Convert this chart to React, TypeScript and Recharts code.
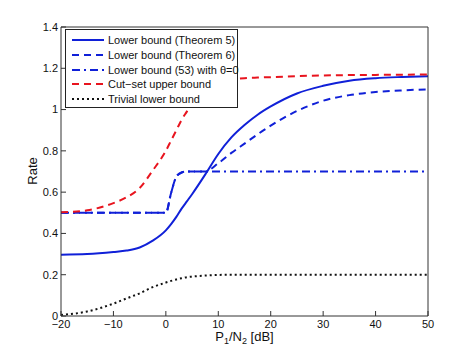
import React from "react";
import { LineChart, Line, XAxis, YAxis } from "recharts";

const xs = [-20, -15, -10, -7.5, -5, -2.5, 0, 1, 2, 3, 4, 5, 7.5, 10, 12.5, 15, 17.5, 20, 25, 30, 35, 40, 45, 50];
const theorem5 = [0.297, 0.3, 0.31, 0.317, 0.332, 0.365, 0.415, 0.445, 0.48, 0.52, 0.555, 0.59, 0.685, 0.785, 0.865, 0.925, 0.975, 1.015, 1.078, 1.115, 1.14, 1.152, 1.158, 1.162];
const theorem6 = [0.5, 0.5, 0.5, 0.5, 0.5, 0.5, 0.5, 0.596, 0.675, 0.695, 0.7, 0.7, 0.7, 0.74, 0.79, 0.835, 0.88, 0.922, 0.993, 1.043, 1.07, 1.085, 1.093, 1.098];
const bound53 = [0.5, 0.5, 0.5, 0.5, 0.5, 0.5, 0.5, 0.596, 0.675, 0.695, 0.7, 0.7, 0.7, 0.7, 0.7, 0.7, 0.7, 0.7, 0.7, 0.7, 0.7, 0.7, 0.7, 0.7];
const cutset = [0.502, 0.512, 0.547, 0.575, 0.62, 0.705, 0.8, 0.85, 0.9, 0.95, 0.99, 1.03, 1.1, 1.13, 1.145, 1.152, 1.155, 1.157, 1.162, 1.165, 1.167, 1.168, 1.169, 1.17];
const trivial = [0.005, 0.022, 0.06, 0.085, 0.11, 0.14, 0.162, 0.17, 0.177, 0.183, 0.188, 0.191, 0.196, 0.199, 0.2, 0.2, 0.2, 0.2, 0.2, 0.2, 0.2, 0.2, 0.2, 0.2];

const xTicks = [-20, -10, 0, 10, 20, 30, 40, 50];
const yTicks = [0, 0.2, 0.4, 0.6, 0.8, 1, 1.2, 1.4];

const legendLabels = [
  "Lower bound (Theorem 5)",
  "Lower bound (Theorem 6)",
  "Lower bound (53) with \u03b8=0",
  "Cut\u2212set upper bound",
  "Trivial lower bound",
];

const BLUE = "#1020d8";
const RED = "#e8141e";
const BLACK = "#111111";
const FONT = "'Liberation Sans', Arial, Helvetica, sans-serif";

const series = [
  { key: "t5", name: legendLabels[0], values: theorem5, color: BLUE, dash: undefined as string | undefined },
  { key: "t6", name: legendLabels[1], values: theorem6, color: BLUE, dash: "7 5" },
  { key: "b53", name: legendLabels[2], values: bound53, color: BLUE, dash: "8 4 2 4" },
  { key: "cs", name: legendLabels[3], values: cutset, color: RED, dash: "7 5" },
  { key: "tr", name: legendLabels[4], values: trivial, color: BLACK, dash: "2 3" },
];

const data = xs.map((x, i) => {
  const row: Record<string, number> = { x };
  series.forEach((s) => {
    row[s.key] = s.values[i];
  });
  return row;
});

const fmt = (v: number) => String(v).replace("-", "\u2212");

function XLabel(props: any) {
  const vb = props.viewBox || {};
  const cx = vb.x + vb.width / 2;
  return (
    <text x={cx} y={vb.y + 25} textAnchor="middle" fontSize={13} fontFamily={FONT} fill="#111">
      P<tspan dy={3} fontSize={9}>1</tspan>
      <tspan dy={-3}>/N</tspan>
      <tspan dy={3} fontSize={9}>2</tspan>
      <tspan dy={-3}> [dB]</tspan>
    </text>
  );
}

function YLabel() {
  return (
    <text
      x={24}
      y={163}
      textAnchor="middle"
      dominantBaseline="central"
      fontSize={13}
      fontFamily={FONT}
      fill="#111"
      transform="rotate(-90 24 163)"
    >
      Rate
    </text>
  );
}

function LegendBox() {
  return (
    <div
      style={{
        position: "absolute",
        left: 57,
        top: 21,
        width: 173,
        height: 79,
        boxSizing: "border-box",
        border: "1px solid #222",
        background: "#fff",
        paddingTop: 3,
        fontFamily: FONT,
        fontSize: 11,
        color: "#111",
      }}
    >
      {series.map((s) => (
        <div key={s.key} style={{ height: 14.7, display: "flex", alignItems: "center" }}>
          <svg width={42} height={10} style={{ flex: "none" }}>
            <line x1={6} y1={5} x2={38} y2={5} stroke={s.color} strokeWidth={2} strokeDasharray={s.dash} />
          </svg>
          <span style={{ whiteSpace: "nowrap", lineHeight: "14px" }}>{s.name}</span>
        </div>
      ))}
    </div>
  );
}

export default function App() {
  const tickStyle = { fontSize: 11, fontFamily: FONT, fill: "#111" };
  return (
    <div style={{ position: "relative", width: 458, height: 339 }}>
      <LineChart width={458} height={339} data={data} margin={{ top: 9, right: 28, bottom: 1, left: 0 }}>
        <XAxis
          dataKey="x"
          type="number"
          domain={[-20, 50]}
          ticks={xTicks}
          tickFormatter={fmt}
          tick={tickStyle}
          tickSize={-5}
          tickMargin={9}
          height={30}
          stroke="#333"
          allowDataOverflow
          label={<XLabel />}
        />
        <XAxis
          xAxisId="top"
          orientation="top"
          type="number"
          domain={[-20, 50]}
          ticks={xTicks}
          tick={false}
          tickSize={-5}
          height={10}
          stroke="#333"
          allowDataOverflow
        />
        <YAxis
          type="number"
          domain={[0, 1.4]}
          ticks={yTicks}
          tick={tickStyle}
          tickSize={-5}
          tickMargin={8}
          width={53}
          stroke="#333"
          allowDataOverflow
          label={<YLabel />}
        />
        <YAxis
          yAxisId="right"
          orientation="right"
          type="number"
          domain={[0, 1.4]}
          ticks={yTicks}
          tick={false}
          tickSize={-5}
          width={10}
          stroke="#333"
          allowDataOverflow
        />
        {series.map((s) => (
          <Line
            key={s.key}
            dataKey={s.key}
            name={s.name}
            type="monotone"
            stroke={s.color}
            strokeWidth={2}
            strokeDasharray={s.dash}
            dot={false}
            activeDot={false}
            isAnimationActive={false}
          />
        ))}
      </LineChart>
      <LegendBox />
    </div>
  );
}
